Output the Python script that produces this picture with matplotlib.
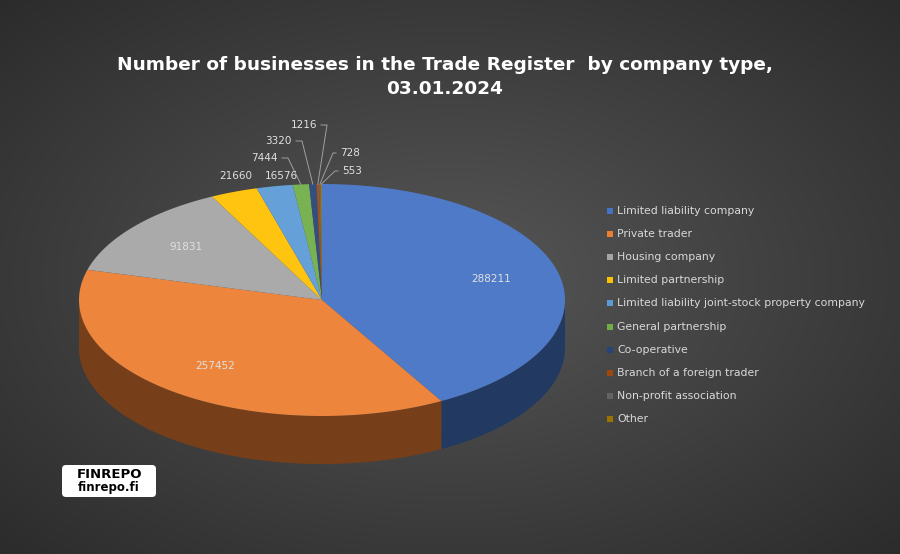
import numpy as np
import matplotlib.pyplot as plt
from matplotlib.patches import Polygon, FancyBboxPatch
from matplotlib.colors import to_rgb

categories = ['Limited liability company', 'Private trader', 'Housing company',
              'Limited partnership', 'Limited liability joint-stock property company',
              'General partnership', 'Co-operative', 'Branch of a foreign trader',
              'Non-profit association', 'Other']
values = [288211, 257452, 91831, 21660, 16576, 7444, 3320, 1216, 728, 553]
colors = ['#4472C4', '#ED7D31', '#A5A5A5', '#FFC000', '#5B9BD5',
          '#70AD47', '#264478', '#9E480E', '#636363', '#997300']

W, H = 900, 554
fig = plt.figure(figsize=(9, 5.54), dpi=100)
ax = fig.add_axes([0, 0, 1, 1])
ax.set_xlim(0, W)
ax.set_ylim(H, 0)
ax.axis('off')

# radial gray background
yy, xx = np.mgrid[0:H, 0:W]
r = np.sqrt(((xx - W / 2) / W) ** 2 + ((yy - H / 2) / H) ** 2)
bg = np.clip(0.34 - 0.24 * r, 0, 1)
ax.imshow(np.dstack([bg, bg, bg]), extent=(0, W, H, 0), zorder=0)

cx, cy, rx, ry, depth = 322, 300, 243, 116, 48


def pt(a):
    return cx + rx * np.cos(a), cy - ry * np.sin(a)


def darker(c, f):
    return tuple(v * f for v in to_rgb(c))


def lighter(c, f):
    return tuple(v + (1 - v) * f for v in to_rgb(c))


total = sum(values)
fracs = np.array(values) / total
starts = np.pi / 2 - 2 * np.pi * np.concatenate([[0], np.cumsum(fracs)[:-1]])
ends = starts - 2 * np.pi * fracs

# side walls (front half only)
for s, e, c in zip(starts, ends, colors):
    for k in range(-1, 2):
        lo, hi = max(e, np.pi + 2 * np.pi * k), min(s, 2 * np.pi + 2 * np.pi * k)
        if hi > lo:
            a = np.linspace(hi, lo, 80)
            x, y = pt(a)
            xs = np.concatenate([x, x[::-1]])
            ys = np.concatenate([y, y[::-1] + depth])
            ax.add_patch(Polygon(np.column_stack([xs, ys]), closed=True,
                                 fc=darker(c, 0.5), ec='none', zorder=2))

# top faces
for s, e, c in zip(starts, ends, colors):
    a = np.linspace(s, e, 120)
    x, y = pt(a)
    xy = np.vstack([[cx, cy], np.column_stack([x, y])])
    ax.add_patch(Polygon(xy, closed=True, fc=lighter(c, 0.06), ec='none', zorder=3))

# value labels
mids = (starts + ends) / 2
for i, (m, v) in enumerate(zip(mids, values)):
    if i < 3:
        x, y = cx + 0.72 * rx * np.cos(m), cy - 0.72 * ry * np.sin(m)
        ax.text(x, y, str(v), color='#e0e0e0', fontsize=7.5, ha='center', va='center', zorder=5)

ax.text(236, 176, '21660', color='#e0e0e0', fontsize=7.5, ha='center', va='center', zorder=5)
ax.text(281, 176, '16576', color='#e0e0e0', fontsize=7.5, ha='center', va='center', zorder=5)
small = [(5, 7444, 278, 158), (6, 3320, 292, 141), (7, 1216, 317, 125),
         (8, 728, 340, 153), (9, 553, 342, 171)]
for i, v, tx, ty in small:
    ex, ey = pt(mids[i])
    ha = 'right' if tx < ex else 'left'
    x0 = tx + (4 if ha == 'right' else -4)
    ax.plot([x0, x0 + (6 if ha == 'right' else -3), ex], [ty, ty, ey],
            color='#a0a0a0', lw=0.7, zorder=4)
    ax.text(tx, ty, str(v), color='#e0e0e0', fontsize=7.5, ha=ha, va='center', zorder=5)

# title
ax.text(445, 77, 'Number of businesses in the Trade Register  by company type,\n03.01.2024',
        color='white', fontsize=13.3, fontweight='bold', ha='center', va='center',
        linespacing=1.5, zorder=5)

# legend
for j, (name, c) in enumerate(zip(categories, colors)):
    y = 211 + j * 23.1
    ax.add_patch(plt.Rectangle((607, y - 3), 6, 6, fc=c, ec='none', zorder=5))
    ax.text(617, y, name, color='#d9d9d9', fontsize=7.8, va='center', zorder=5)

# logo
ax.add_patch(FancyBboxPatch((62, 465), 94, 32, boxstyle='round,pad=0,rounding_size=4',
                            fc='white', ec='none', zorder=5))
ax.text(109, 474, 'FINREPO', color='black', fontsize=9.5, fontweight='bold',
        ha='center', va='center', zorder=6)
ax.text(109, 488, 'finrepo.fi', color='black', fontsize=8.5, fontweight='bold',
        ha='center', va='center', zorder=6)

fig.savefig('out.png', dpi=100)
